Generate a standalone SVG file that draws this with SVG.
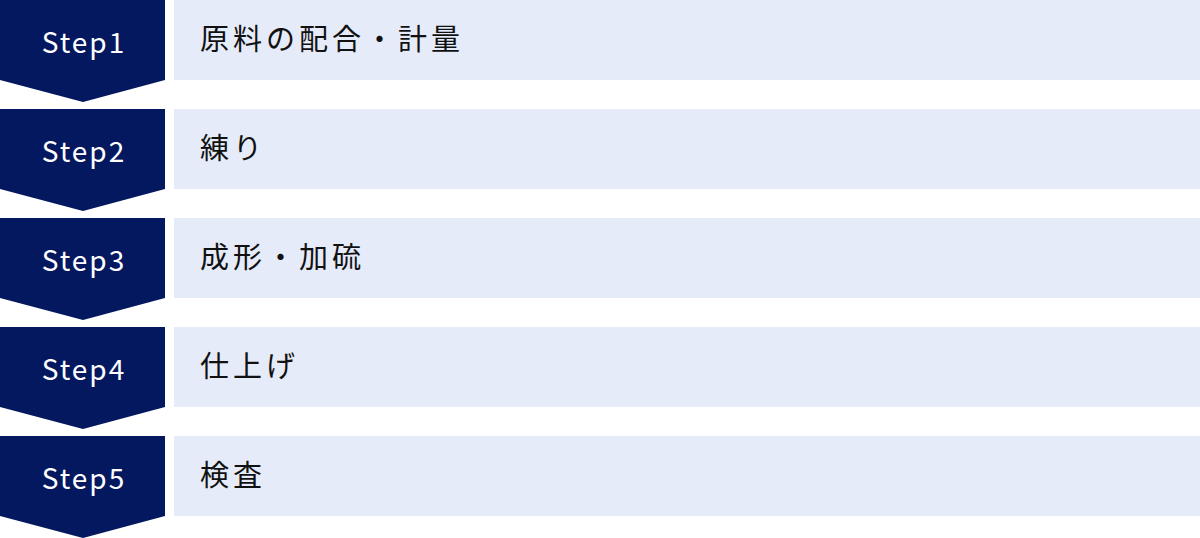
<svg xmlns="http://www.w3.org/2000/svg" width="1200" height="538" viewBox="0 0 1200 538">
<style>
.tag{fill:#041860}
.box{fill:#e5ebf9}
.st{font-family:"Noto Sans CJK JP","Noto Sans",sans-serif;font-size:28px;fill:#ffffff;text-anchor:middle;letter-spacing:2px}
.lb{font-family:"Noto Sans CJK JP",sans-serif;font-size:29px;fill:#111111;letter-spacing:4px}
</style>
<defs>
<path id="chev" d="M0,0 H165 V80 L83,102 L0,80 Z"/>
</defs>
<g id="connectors"></g>
<g id="step1" transform="translate(0,0)">
<use href="#chev" class="tag"/>
<rect class="box" x="174" y="0" width="1026" height="80"/>
<text class="st" x="84" y="52.5">Step1</text>
<text class="lb" x="200" y="50">原料の配合・計量</text>
</g>
<g id="step2" transform="translate(0,109)">
<use href="#chev" class="tag"/>
<rect class="box" x="174" y="0" width="1026" height="80"/>
<text class="st" x="84" y="52.5">Step2</text>
<text class="lb" x="200" y="50">練り</text>
</g>
<g id="step3" transform="translate(0,218)">
<use href="#chev" class="tag"/>
<rect class="box" x="174" y="0" width="1026" height="80"/>
<text class="st" x="84" y="52.5">Step3</text>
<text class="lb" x="200" y="50">成形・加硫</text>
</g>
<g id="step4" transform="translate(0,327)">
<use href="#chev" class="tag"/>
<rect class="box" x="174" y="0" width="1026" height="80"/>
<text class="st" x="84" y="52.5">Step4</text>
<text class="lb" x="200" y="50">仕上げ</text>
</g>
<g id="step5" transform="translate(0,436)">
<use href="#chev" class="tag"/>
<rect class="box" x="174" y="0" width="1026" height="80"/>
<text class="st" x="84" y="52.5">Step5</text>
<text class="lb" x="200" y="50">検査</text>
</g>
</svg>
